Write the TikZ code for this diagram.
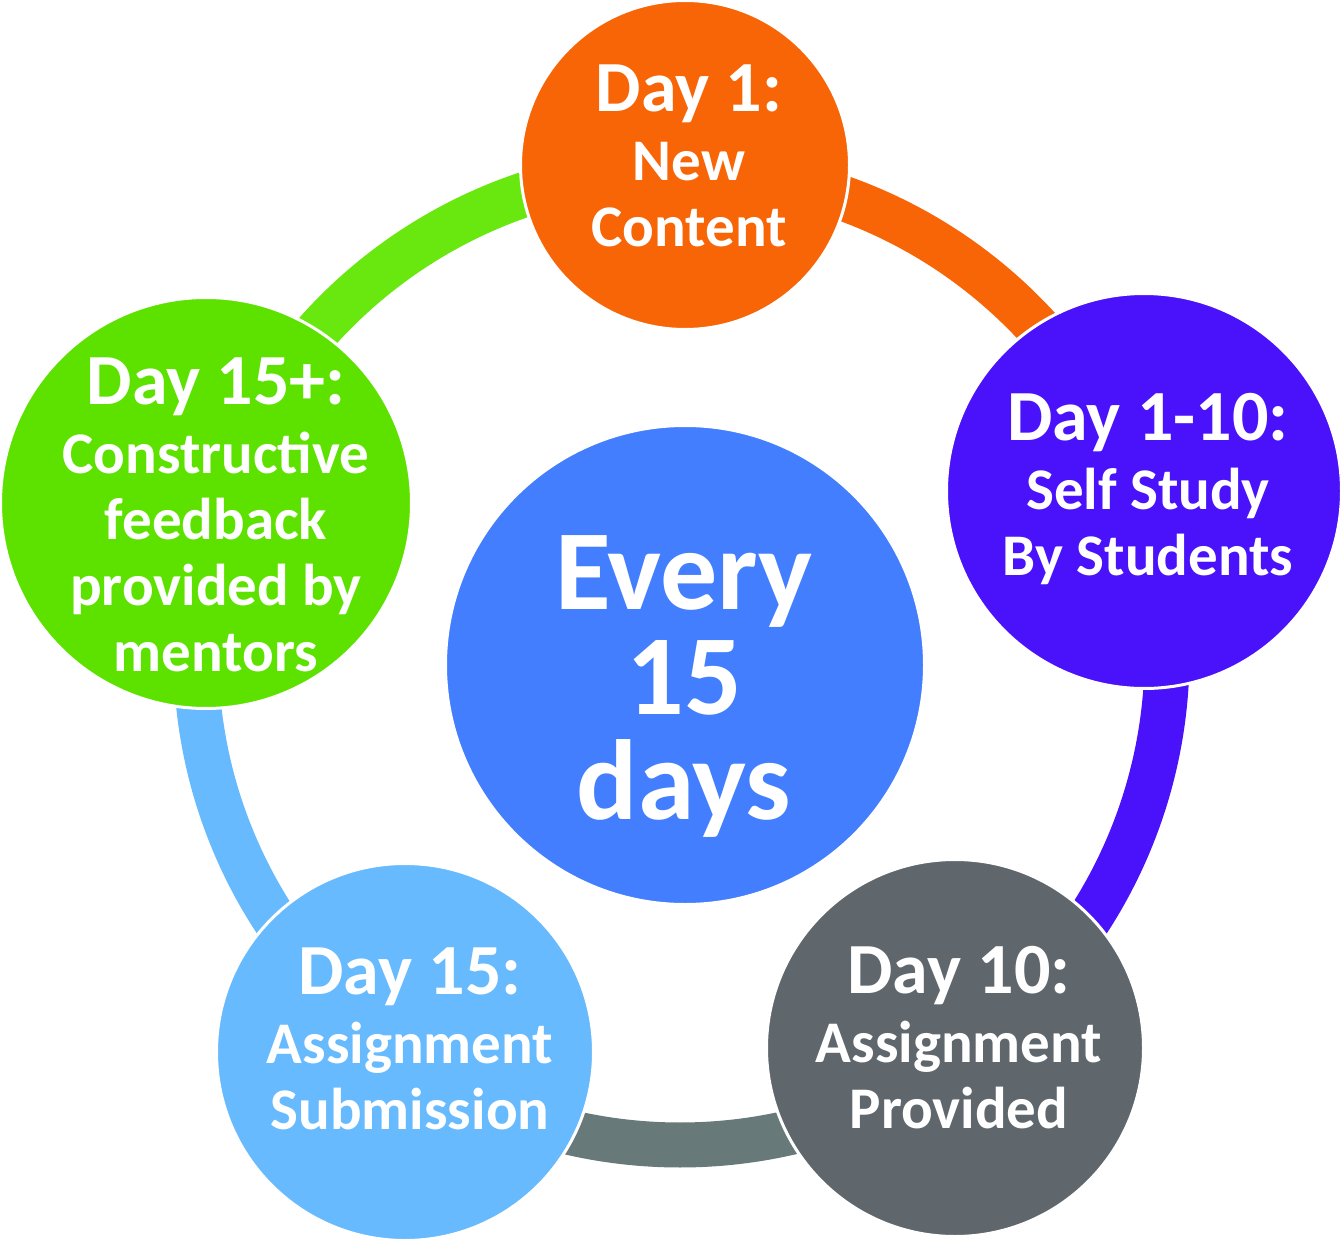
\documentclass[tikz,border=0pt]{standalone}
\usepackage{fontspec}
\setmainfont{Carlito}
\definecolor{corange}{HTML}{F76507}
\definecolor{cpurple}{HTML}{4A12FA}
\definecolor{cgray}{HTML}{5F676D}
\definecolor{cgrayband}{HTML}{677A79}
\definecolor{clblue}{HTML}{66BAFD}
\definecolor{cgreen}{HTML}{5DE200}
\definecolor{cgreenband}{HTML}{69E80F}
\definecolor{cblue}{HTML}{427EFE}
\newcommand\dayline[1]{{\fontsize{72}{66}\selectfont #1}}
\begin{document}
\begin{tikzpicture}[x=1pt,y=-1pt,
  band/.style={line width=45pt},
  disc/.style={circle, draw=white, line width=3pt, inner sep=0pt},
  txt/.style={text=white, align=center, inner sep=0pt,
    font=\bfseries\fontsize{59}{66}\selectfont},
  bigtxt/.style={text=white, align=center, inner sep=0pt,
    font=\bfseries\fontsize{114}{105}\selectfont}]
\useasboundingbox (0,0) rectangle (1342,1241);
% connecting bands
\coordinate (o) at (680,655);
\draw[band, corange]    ([shift={(o)}]-90:485) arc[start angle=-90, end angle=-18, radius=485];
\draw[band, cpurple]    ([shift={(o)}]-18:487) arc[start angle=-18, end angle=54, radius=487];
\draw[band, cgrayband]  ([shift={(o)}]54:490) arc[start angle=54, end angle=126, radius=490];
\draw[band, clblue]     ([shift={(o)}]126:484) arc[start angle=126, end angle=198, radius=484];
\draw[band, cgreenband] ([shift={(o)}]198:486) arc[start angle=198, end angle=270, radius=486];
% discs
\node[disc, fill=corange, minimum size=329pt] (c1) at (685,165) {};
\node[disc, fill=cpurple, minimum size=395pt] (c2) at (1144,491) {};
\node[disc, fill=cgray,   minimum size=377pt] (c3) at (955,1048) {};
\node[disc, fill=clblue,  minimum size=377pt] (c4) at (405,1052) {};
\node[disc, fill=cgreen,  minimum size=411pt] (c5) at (206,503) {};
\node[disc, fill=cblue,   minimum size=479pt] (c0) at (685,665) {};
% texts
\node[txt] (t1) at (689,155.5) {\dayline{Day 1:}\\[3pt]New\\Content};
\node[txt] (t2) at (1148,489) {\dayline{Day 1-10:}\\[3pt]Self Study\\By Students};
\node[txt] (t3) at (959,1037.5) {\dayline{Day 10:}\\[3pt]Assignment\\Provided};
\node[txt] (t4) at (410,1038.5) {\dayline{Day 15:}\\[3pt]Assignment\\Submission};
\node[txt] (t5) at (216,515) {\dayline{Day 15+:}\\[3pt]Constructive\\feedback\\provided by\\mentors};
\node[bigtxt] (t0) at (684,686.5) {Every\\15\\days};
\end{tikzpicture}
\end{document}
